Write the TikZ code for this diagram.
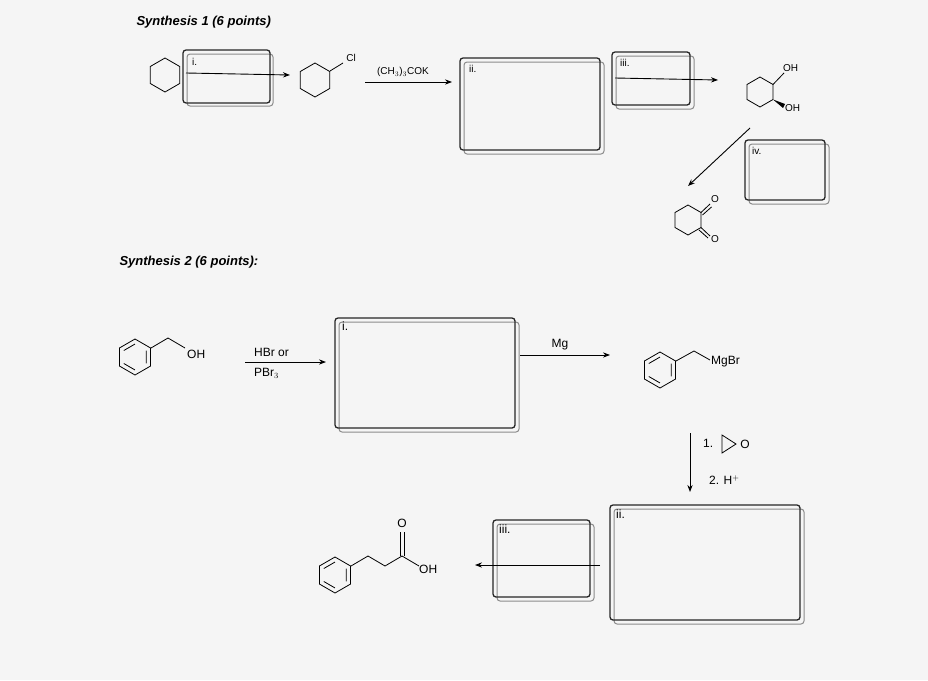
\documentclass[tikz,border=0pt]{standalone}
\usepackage{fontspec}
\setmainfont{Liberation Sans}
\usetikzlibrary{arrows.meta}
\begin{document}
\begin{tikzpicture}[x=1pt,y=-1pt,
  ans/.style={draw=black!85,line width=1.3pt,rounded corners=3pt},
  shd/.style={draw=black!45,line width=1pt,rounded corners=3pt},
  rx/.style={-{Stealth[length=7pt]},line width=0.9pt},
  bond/.style={line width=0.8pt},
  lbl/.style={font=\fontsize{12}{14}\selectfont,inner sep=1pt},
  sml/.style={font=\fontsize{10}{12}\selectfont,inner sep=1pt},
  ttl/.style={font=\bfseries\itshape\fontsize{13}{15}\selectfont,anchor=west}]
\fill[black!4] (0,0) rectangle (928,680);
\useasboundingbox (0,0) rectangle (928,680);
\newcommand{\hexa}[3]{\draw[bond,shift={(#1,#2)}] (30:#3)--(90:#3)--(150:#3)--(210:#3)--(270:#3)--(330:#3)--cycle;}
\newcommand{\benz}[3]{\hexa{#1}{#2}{#3}
  \draw[bond,shift={(#1,#2)}] (90:0.72*#3)--(150:0.72*#3) (210:0.72*#3)--(270:0.72*#3) (330:0.72*#3)--(30:0.72*#3);}
% Synthesis 1
\node[ttl] (t1) at (133,22) {Synthesis 1 (6 points)};
\hexa{165}{75}{17}
\draw[shd] (187,54) rectangle (273,106);
\draw[ans] (183,50) rectangle (270,103);
\node[sml,anchor=north west] (l1) at (191,57) {i.};
\coordinate (a1s) at (186,73); \coordinate (a1e) at (290,75);
\draw[rx] (a1s)--(a1e);
\hexa{315}{80}{17}
\draw[bond] (330,71)--(343,63);
\node[sml] (cl) at (351,58) {Cl};
\coordinate (a2s) at (365,82); \coordinate (a2e) at (452,82);
\draw[rx] (a2s)--(a2e);
\node[sml] (r2) at (403,72) {(CH$_3$)$_3$COK};
\draw[shd] (464,62) rectangle (604,154);
\draw[ans] (460,58) rectangle (600,150);
\node[sml,anchor=north west] (l2) at (468,64) {ii.};
\draw[shd] (616,56) rectangle (694,109);
\draw[ans] (612,52) rectangle (690,105);
\node[sml,anchor=north west] (l3) at (619,58) {iii.};
\coordinate (a3s) at (615,78); \coordinate (a3e) at (718,80);
\draw[rx] (a3s)--(a3e);
\hexa{760}{92}{15}
\draw[bond] (773,84.5)--(784,73);
\node[sml,anchor=west] (oh1) at (782,68) {OH};
\fill (773,99.5)--(785,104)--(783,108)--cycle;
\node[sml,anchor=west] (oh2) at (784,108) {OH};
\coordinate (a4s) at (750,128); \coordinate (a4e) at (688,186);
\draw[rx] (a4s)--(a4e);
\draw[shd] (749,144) rectangle (829,204);
\draw[ans] (745,140) rectangle (825,200);
\node[sml,anchor=north west] (l4) at (751,146) {iv.};
\hexa{688}{220}{15}
\draw[bond] (701,212.5)--(710,204) (702.5,215)--(711.5,207);
\node[sml] (o1) at (715,199) {O};
\draw[bond] (701,227.5)--(710,236) (699,230)--(708,238);
\node[sml] (o2) at (715,239) {O};
% Synthesis 2
\node[ttl] (t2) at (116,262) {Synthesis 2 (6 points):};
\benz{135}{357}{18}
\draw[bond] (151,348)--(168,338)--(185,348);
\node[lbl,anchor=west] (oh3) at (186,354) {OH};
\coordinate (a5s) at (245,362); \coordinate (a5e) at (326,362);
\draw[rx] (a5s)--(a5e);
\node[lbl,anchor=west] (r5a) at (253,352) {HBr or};
\node[lbl,anchor=west] (r5b) at (253,373) {PBr$_3$};
\draw[shd] (339,322) rectangle (519,432);
\draw[ans] (335,318) rectangle (515,428);
\node[lbl,anchor=north west] (l5) at (341,321) {i.};
\coordinate (a6s) at (520,355); \coordinate (a6e) at (610,355);
\draw[rx] (a6s)--(a6e);
\node[lbl] (mg) at (560,345) {Mg};
\benz{660}{370}{18}
\draw[bond] (676,361)--(694,351)--(710,360);
\node[lbl,anchor=west] (mgbr) at (710,362) {MgBr};
\coordinate (a7s) at (690,433); \coordinate (a7e) at (690,492);
\draw[rx] (a7s)--(a7e);
\node[lbl,anchor=west] (r7a) at (702,443) {1.};
\draw[bond] (722,435)--(722,453)--(736,444)--cycle;
\node[lbl] (oep) at (745,444) {O};
\node[lbl,anchor=west] (r7b) at (708,480) {2. H$^+$};
\draw[shd] (614,509) rectangle (804,624);
\draw[ans] (610,505) rectangle (800,620);
\node[lbl,anchor=north west] (l6) at (615,509) {ii.};
\draw[shd] (497,524) rectangle (594,601);
\draw[ans] (493,520) rectangle (590,597);
\node[lbl,anchor=north west] (l7) at (498,524) {iii.};
\coordinate (a8s) at (600,565); \coordinate (a8e) at (475,565);
\draw[rx] (a8s)--(a8e);
\benz{335}{575}{18}
\draw[bond] (351,566)--(368,556)--(385,566)--(402,556)--(419,566);
\draw[bond] (400,556)--(400,532) (404,556)--(404,532);
\node[lbl] (o3) at (402,523) {O};
\node[lbl,anchor=west] (oh4) at (418,569) {OH};
\end{tikzpicture}
\end{document}
